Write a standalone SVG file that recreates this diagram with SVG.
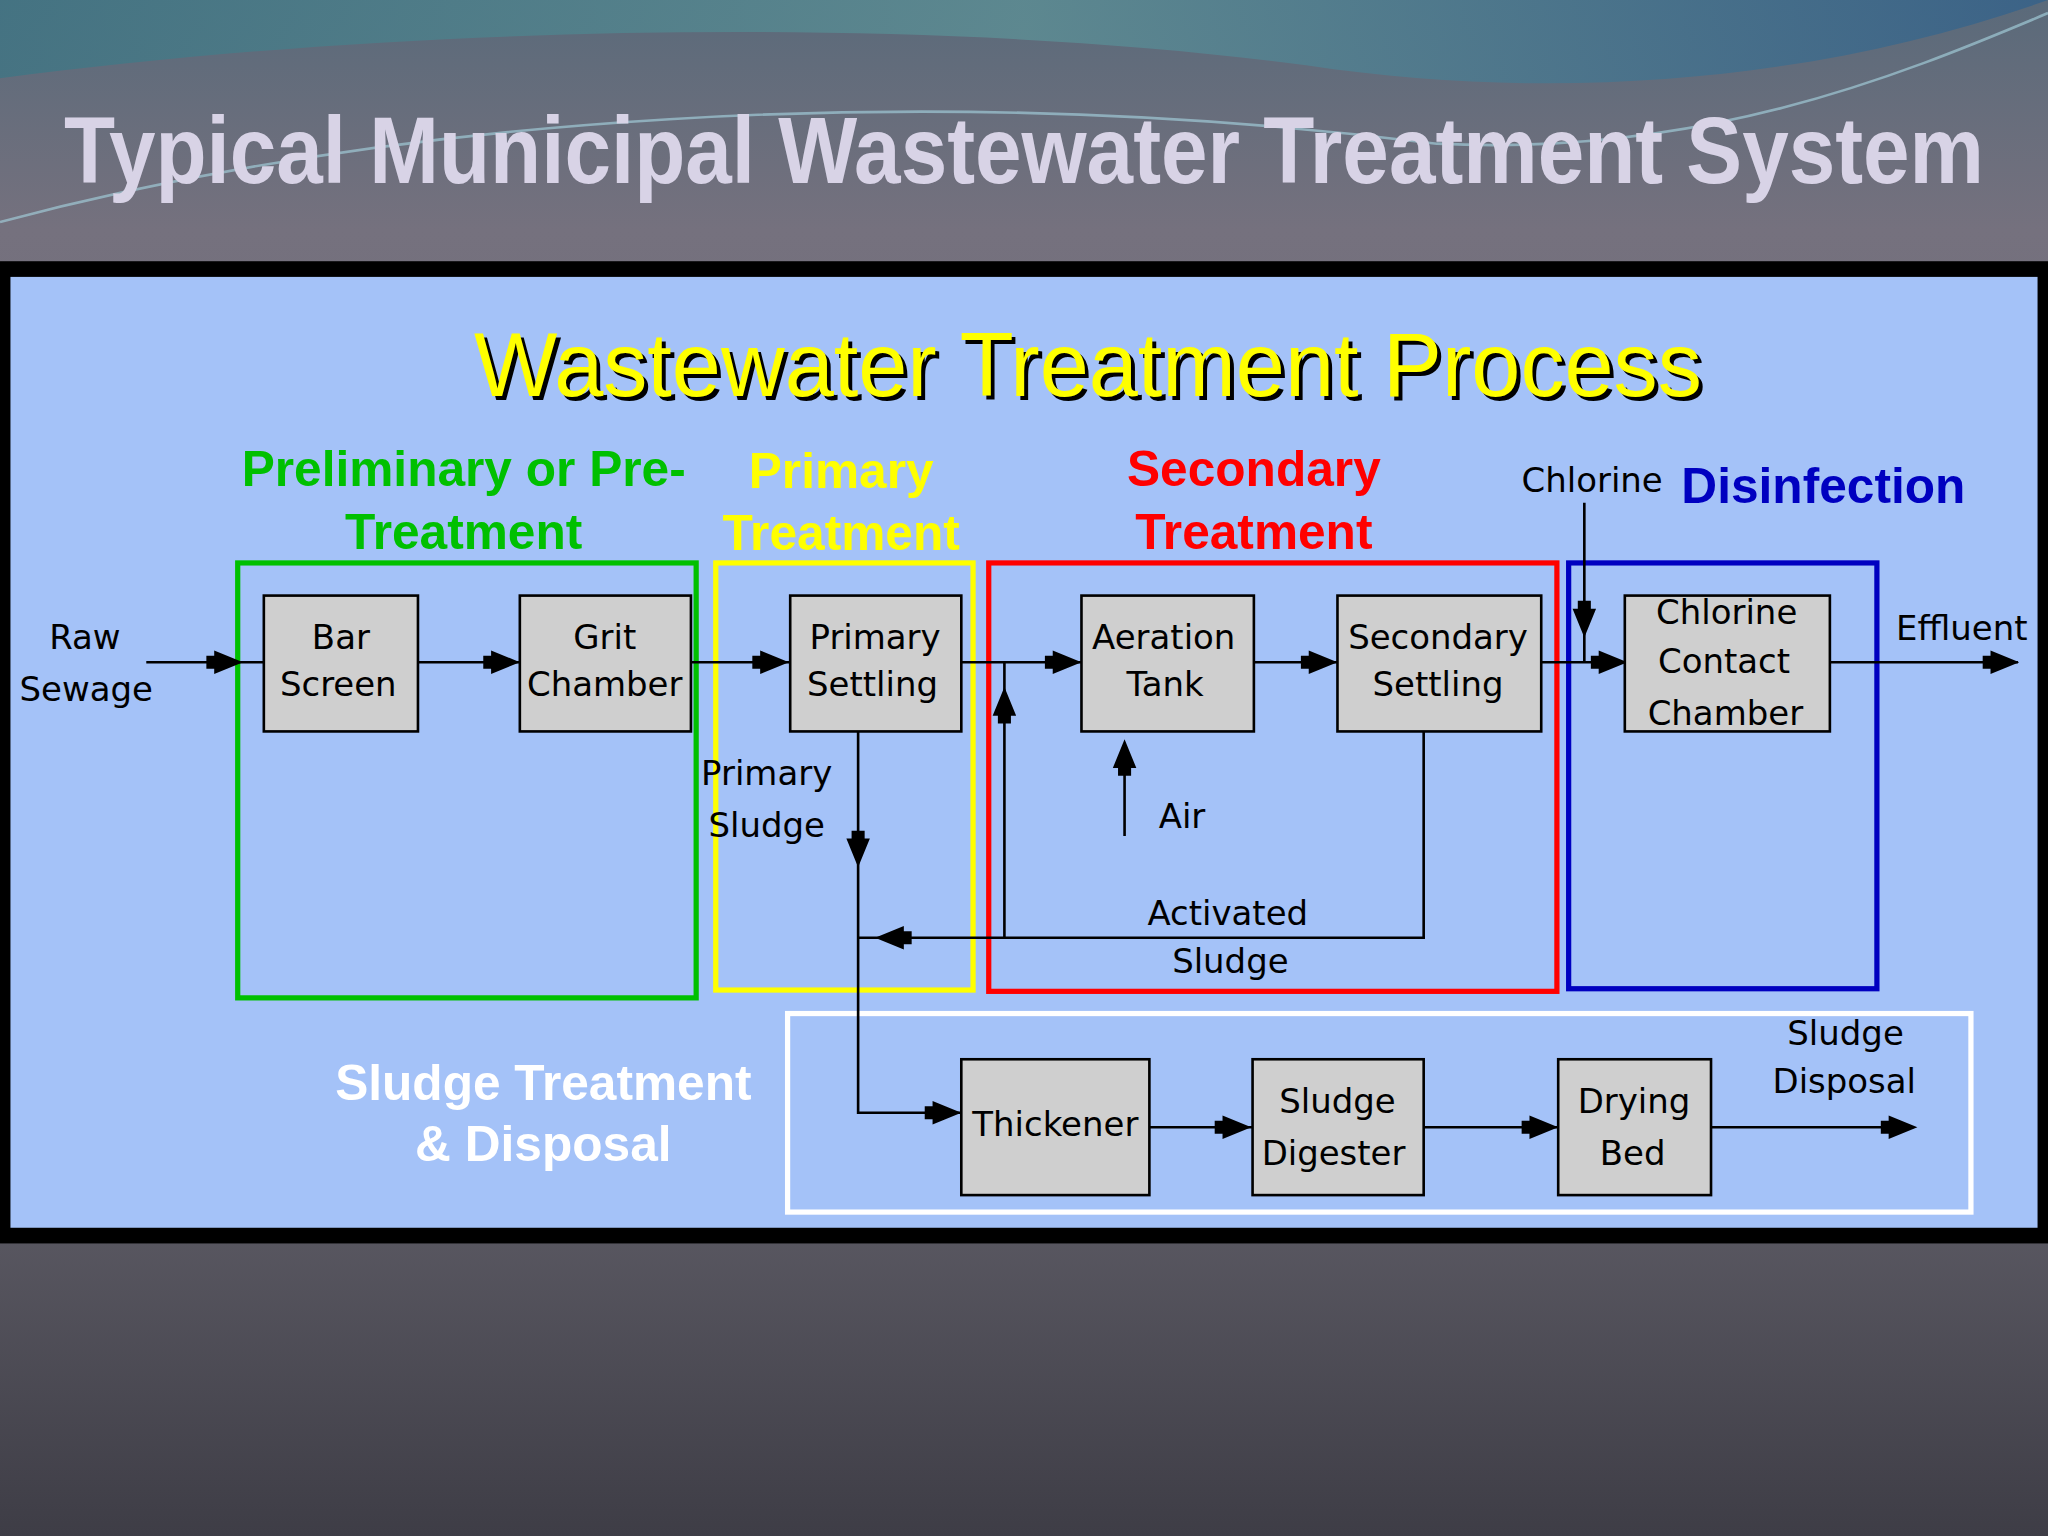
<svg xmlns="http://www.w3.org/2000/svg" width="2048" height="1536" viewBox="0 0 2048 1536">
<defs>
<linearGradient id="bg" x1="0" y1="0" x2="0" y2="1">
<stop offset="0" stop-color="#5a6a7a"/><stop offset="0.15" stop-color="#75717e"/><stop offset="0.7" stop-color="#66646e"/><stop offset="1" stop-color="#3e3d46"/>
</linearGradient>
<linearGradient id="sw" x1="0" y1="0" x2="1" y2="0">
<stop offset="0" stop-color="#3f7584"/><stop offset="0.5" stop-color="#5d8f95"/><stop offset="1" stop-color="#34618a"/>
</linearGradient>
<path id="ah" d="M-16,-9 L6,0 L-16,9 Z M-22,-5 H-14 V5 H-22 Z"/>
<style>
.box{fill:none;stroke-width:4}
.node rect{fill:#cfcfcf;stroke:#000;stroke-width:2}
.t{font-family:"DejaVu Sans",sans-serif;font-size:26px;fill:#000;text-anchor:middle}
.h{font-family:"Liberation Sans",Arial,sans-serif;font-weight:bold;font-size:38px;text-anchor:middle}
.ln{stroke:#000;stroke-width:2;fill:none}
</style>
</defs>
<rect width="2048" height="1536" fill="url(#bg)"/>
<g transform="scale(1.30612)">
<path d="M0,60 C300,20 700,10 1000,50 C1200,80 1400,60 1568,0 L1568,0 L0,0 Z" fill="url(#sw)" opacity="0.8"/>
<path d="M0,170 C300,90 700,60 1100,110 C1300,120 1450,60 1568,10" stroke="#9fc9d6" stroke-width="2" fill="none" opacity="0.7"/>
<text x="784" y="140" font-family="Liberation Sans,Arial,sans-serif" font-weight="bold" font-size="72" fill="#d8d3e6" text-anchor="middle" textLength="1470" lengthAdjust="spacingAndGlyphs">Typical Municipal Wastewater Treatment System</text>
<rect x="0" y="200" width="1568" height="752" fill="#000"/>
<rect x="8" y="212" width="1552" height="728" fill="#a4c2f8"/>
<text x="836" y="306" font-family="Liberation Sans,Arial,sans-serif" font-size="70" fill="#000" text-anchor="middle" textLength="940" lengthAdjust="spacingAndGlyphs">Wastewater Treatment Process</text>
<text x="833" y="303" font-family="Liberation Sans,Arial,sans-serif" font-size="70" fill="#ffff00" text-anchor="middle" textLength="940" lengthAdjust="spacingAndGlyphs">Wastewater Treatment Process</text>
<g id="stages">
<rect class="box" x="182" y="431" width="351" height="333" stroke="#00c000"/>
<rect class="box" x="548" y="431" width="197" height="327" stroke="#ffff00"/>
<rect class="box" x="757" y="431" width="435" height="328" stroke="#ff0000"/>
<rect class="box" x="1201" y="431" width="236" height="326" stroke="#0000c0"/>
<rect class="box" x="603" y="776" width="906" height="152" stroke="#ffffff"/>
<text class="h" x="355" y="372" fill="#00c000">Preliminary or Pre-</text>
<text class="h" x="355" y="420" fill="#00c000">Treatment</text>
<text class="h" x="644" y="374" fill="#ffff00">Primary</text>
<text class="h" x="644" y="421" fill="#ffff00">Treatment</text>
<text class="h" x="960" y="372" fill="#ff0000">Secondary</text>
<text class="h" x="960" y="420" fill="#ff0000">Treatment</text>
<text class="h" x="1396" y="385" fill="#0000c0">Disinfection</text>
<text class="h" x="416" y="842" fill="#ffffff">Sludge Treatment</text>
<text class="h" x="416" y="889" fill="#ffffff">&amp; Disposal</text>
</g>
<g id="connectors">
<path class="ln" d="M112,507 H202 M320,507 H398 M529,507 H605 M736,507 H828 M960,507 H1024 M1180,507 H1244 M1401,507 H1545 M1213,385 V507 M657,560 V852 H736 M1090,560 V718 H657 M769,718 V507 M861,640 V572 M880,863 H959 M1090,863 H1193 M1310,863 H1465"/>
<use href="#ah" transform="translate(180,507)"/>
<use href="#ah" transform="translate(392,507)"/>
<use href="#ah" transform="translate(598,507)"/>
<use href="#ah" transform="translate(822,507)"/>
<use href="#ah" transform="translate(1018,507)"/>
<use href="#ah" transform="translate(1240,507)"/>
<use href="#ah" transform="translate(1540,507)"/>
<use href="#ah" transform="translate(1213,482) rotate(90)"/>
<use href="#ah" transform="translate(657,658) rotate(90)"/>
<use href="#ah" transform="translate(730,852)"/>
<use href="#ah" transform="translate(676,718) rotate(180)"/>
<use href="#ah" transform="translate(769,532) rotate(-90)"/>
<use href="#ah" transform="translate(861,572) rotate(-90)"/>
<use href="#ah" transform="translate(952,863)"/>
<use href="#ah" transform="translate(1187,863)"/>
<use href="#ah" transform="translate(1462,863)"/>
</g>
<g id="n-bar" class="node"><rect x="202" y="456" width="118" height="104"/><text class="t" x="261" y="497">Bar</text><text class="t" x="259" y="533">Screen</text></g>
<g id="n-grit" class="node"><rect x="398" y="456" width="131" height="104"/><text class="t" x="463" y="497">Grit</text><text class="t" x="463" y="533">Chamber</text></g>
<g id="n-prim" class="node"><rect x="605" y="456" width="131" height="104"/><text class="t" x="670" y="497">Primary</text><text class="t" x="668" y="533">Settling</text></g>
<g id="n-aer" class="node"><rect x="828" y="456" width="132" height="104"/><text class="t" x="891" y="497">Aeration</text><text class="t" x="892" y="533">Tank</text></g>
<g id="n-sec" class="node"><rect x="1024" y="456" width="156" height="104"/><text class="t" x="1101" y="497">Secondary</text><text class="t" x="1101" y="533">Settling</text></g>
<g id="n-chl" class="node"><rect x="1244" y="456" width="157" height="104"/><text class="t" x="1322" y="478">Chlorine</text><text class="t" x="1320" y="515">Contact</text><text class="t" x="1321" y="555">Chamber</text></g>
<g id="n-thick" class="node"><rect x="736" y="811" width="144" height="104"/><text class="t" x="808" y="870">Thickener</text></g>
<g id="n-dig" class="node"><rect x="959" y="811" width="131" height="104"/><text class="t" x="1024" y="852">Sludge</text><text class="t" x="1021" y="892">Digester</text></g>
<g id="n-dry" class="node"><rect x="1193" y="811" width="117" height="104"/><text class="t" x="1251" y="852">Drying</text><text class="t" x="1250" y="892">Bed</text></g>
<g id="labels">
<text class="t" x="65" y="497">Raw</text><text class="t" x="66" y="537">Sewage</text>
<text class="t" x="1219" y="377">Chlorine</text>
<text class="t" x="1502" y="490">Effluent</text>
<text class="t" x="587" y="601">Primary</text><text class="t" x="587" y="641">Sludge</text>
<text class="t" x="905" y="634">Air</text>
<text class="t" x="940" y="708">Activated</text><text class="t" x="942" y="745">Sludge</text>
<text class="t" x="1413" y="800">Sludge</text><text class="t" x="1412" y="837">Disposal</text>
</g>
</g>
</svg>
